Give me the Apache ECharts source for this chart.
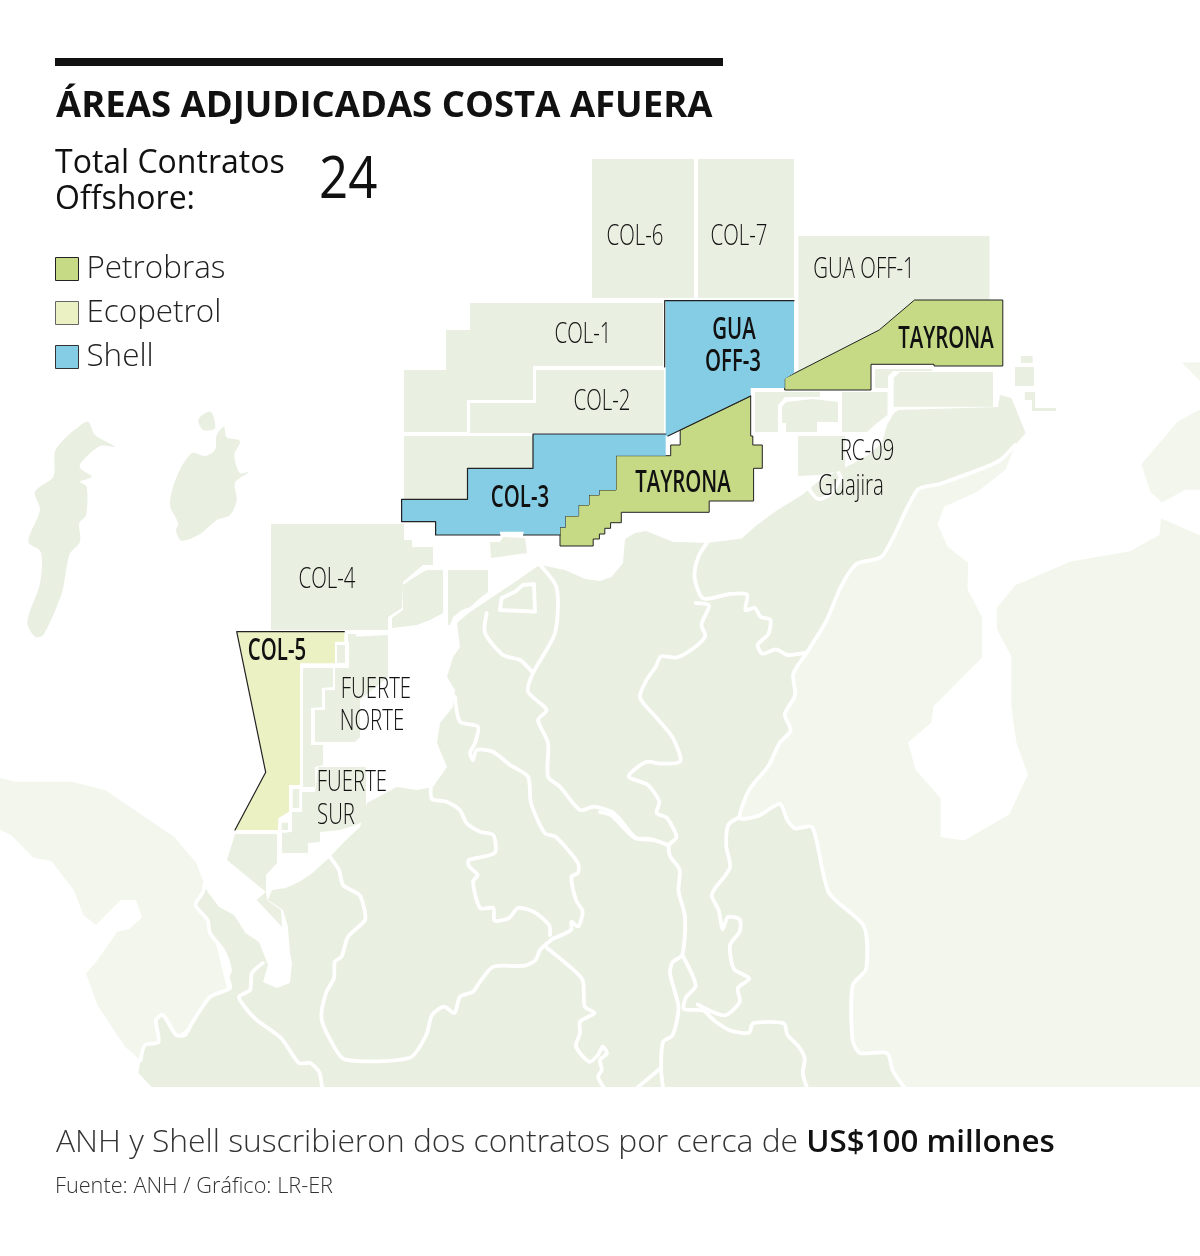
<!DOCTYPE html>
<html>
<head>
<meta charset="utf-8">
<style>html,body{margin:0;padding:0;background:#fff}#container{width:1200px;height:1256px}</style>
<script src="https://cdn.jsdelivr.net/npm/echarts@6/dist/echarts.min.js"></script>
</head>
<body>
<div id="container"></div>
<script>
// map geometry, in the picture's own x / y units
var paleLand = [
  [[1015,445],[1005.7,469.5],[977,492],[944.4,506.4],[937.5,524.3],[947.5,546.5],[968.2,563],[967.4,589],[982,617.3],[982,657.4],[933.7,706],[931.4,722.6],[908,742.4],[915.7,769.8],[940.6,798.2],[940.6,836.9],[964.3,840.6],[1009.5,814.2],[1027.9,774.5],[1016.4,742.4],[1011.4,707],[1011.4,656.5],[996.9,629.1],[996.9,607.9],[1015.2,585.2],[1070.7,561.6],[1130,551.2],[1159.5,534.7],[1161,518.2],[1200,535.6],[1200,1087],[700,1087],[700,700],[900,470]],
  [[1141.5,463.9],[1177.9,421.4],[1200,409.6],[1200,489.8],[1185.5,489.8],[1161.8,502.6],[1150,491.3]],
  [[1181.7,362.4],[1200,381],[1200,362.4]],
  [[0,778],[15.6,781.7],[71.4,781.7],[105,790],[174,836.7],[196.4,863],[204.5,885],[203,892],[230,1000],[140.6,1060],[125,1046.7],[97.3,1005],[86,973.3],[96,962.3],[117.4,931.7],[129.5,929],[142,917.3],[136,900],[120.5,900],[96,925],[83.5,915],[73.7,890],[51.3,861],[33.5,857.7],[11,835],[0,830]]
];
var mainLand = [[1025.6,433],[1011.4,398],[1000,395],[998,407],[898.5,410],[894,413],[887,425],[882,443],[868,455],[854,463],[835,472],[820,480],[802.8,494.6],[776,511],[757,525],[741.6,538.5],[707,543],[672.7,541.8],[646,531],[635,533],[625,539],[623,563],[611.5,577],[600,581],[585,579],[565,570],[540,565],[535,568],[515,582],[488,600],[470,612],[457,623],[460,647],[453,657],[447,677],[455,690],[453,707],[440,723],[437,743],[447,767],[433,787],[417,790],[397,787],[367,803],[360,827],[343,843],[330,857],[312.5,873],[299,882],[286,888],[272,890],[268,900],[283,910],[288,927],[290,953],[292,963],[290,983],[277,988],[263,982],[268,965],[259,942],[245.5,933],[234,915],[219,907],[207.6,892],[204.5,885],[203,892],[195.5,905],[207.6,920],[210,933],[223,950],[230,970],[227.7,977],[230,988],[210,997],[192,1023],[185,1035],[176,1035],[163,1015],[156,1020],[158.5,1042],[145,1045],[140.6,1060],[138.4,1073],[145,1080],[151.8,1087],[904,1087],[892.8,1070.6],[887,1053],[860,1053],[852.6,1040],[852.6,985.6],[866,969],[864,926.6],[828.9,892.6],[812.4,827.4],[795.2,828.4],[787.5,820.3],[779.9,803.8],[758.8,815.6],[739.7,818],[749.3,789.7],[768.4,766],[779.9,742.4],[790.6,730.6],[784.8,714],[795.2,695.2],[793.3,674],[806.7,652.7],[825.8,622],[841,586.6],[856.4,564],[882.4,556],[917.6,489.8],[940.6,483.7],[998,461.5],[1015,445]];
var islands = [
  [[88,421.7],[95,435],[115,446.7],[100,446],[81.7,461.7],[80,468],[91.7,476.7],[80,481.7],[86.7,486.7],[86,515],[79.3,523.3],[80,541.7],[70,553.3],[66.7,566.7],[61.7,593.3],[43.3,635],[35,636.7],[27.3,621.7],[40,583.3],[40.7,551.7],[28.3,541.7],[40,510],[35,491.7],[53.3,476.7],[55,451.7],[63.3,440],[76.7,428.3]],
  [[216.7,435],[224,426.7],[226.7,437.3],[240,441],[234.3,455],[240,473.3],[249.3,471.7],[235,482.7],[236.7,500],[230,515],[216.7,520],[200,534],[181.7,540.7],[176,530.7],[178.3,523.3],[170,505],[176.7,476.7],[191.7,453.3],[205,456],[215,450]],
  [[198.3,419.3],[210.7,411.7],[215,428.3],[203.3,430]]
];
var rivers = [
  [[707,543],[698.7,556],[694.5,577],[703.3,598.4],[730,594],[747,594.6],[745.4,610],[755,608],[760.7,617],[770.3,619.7],[768.4,634],[757.7,644.7],[762.6,653.7],[776,649.4],[787.5,655],[806.7,652.7]],
  [[695.7,603],[709,605.5],[701.4,624.4],[705.2,636.2],[693.8,648],[676.5,657.5],[661,656.5],[655.5,667],[646,681],[640,697.6],[657.4,718.8],[672.7,737.7],[680.4,761.3],[661,763.7],[646,762],[628.7,776.4],[647.8,785],[659.3,801.5],[656.6,813],[667,818],[676.5,837],[668.9,845.4],[670,855.7],[679.6,870],[678.5,891],[685,917],[682.3,955],[672.7,962],[670,973.8],[678.5,1007],[672.7,1035],[663,1042],[661,1068],[663,1087]],
  [[682.3,955],[695.7,985.6],[686,997.4],[684,1009],[703,1010.6],[714.8,1021],[730,1030.4],[749,1032.8],[753,1023.3],[783.7,1023.3],[787.5,1035],[799,1047],[804.7,1058.8],[802.8,1073],[806.7,1087]],
  [[737.8,818],[728.2,825],[726.3,846.3],[730,867.5],[714.8,888.8],[711.7,896],[718.6,910],[722.5,929],[728,917],[739.7,919.5],[739.7,931.3],[730,945.5],[734,969],[749.3,978.5],[737.8,988],[739.7,1002],[724.4,1015.3],[697.6,1004.5]],
  [[661,1068],[638,1087]],
  [[330,857],[339,870],[343,885],[359.4,895],[363.8,906.7],[365,920],[348,936.7],[341.5,956.7],[334.8,961.7],[334,978],[326,993],[321.4,1018],[330.4,1040],[344.6,1059.3],[409.8,1057.7],[426.3,1035],[432,1015],[444,1006.7],[454.5,1013],[460,996.7],[473,991.7],[480,981.7],[493.3,966.7],[524.5,965.7],[535.7,960],[540,950],[553.6,938.3]],
  [[430.8,788],[432,799],[446.4,801.7],[459.8,810],[466.5,823],[480,831.7],[493.3,835],[494.6,853],[468.8,860],[468.8,866],[477.7,875],[473,881.7],[480,908],[493.3,908],[494.6,920.7],[509,918],[518,908],[533.5,911.7],[549,925],[550,935]],
  [[455,696.7],[460,721.7],[478,726.7],[475,743],[470,753],[473,760],[476.7,750],[493,751.7],[510,765],[528,776.7],[531,803],[544.6,833],[555.8,837],[578,863],[578,873],[571.4,876.7],[576,900],[582.6,911.7],[578,926.7],[571.4,921.7],[571,930],[553.6,938.3]],
  [[547,948],[569,966],[582.6,980],[584.8,1006.7],[594.6,1013],[580,1021.7],[580,1033],[576,1046.7],[589.3,1061.7],[598,1055],[602.7,1046.7],[607,1053],[600,1060],[601.8,1070],[598,1076.7],[603.6,1087]],
  [[540,565],[556.7,588],[555,633],[533,673],[528,691.7],[546.7,710],[538,720],[548,743],[548,776.7],[560,786.7],[580,810],[593.8,806.7],[611.6,811.7],[620.5,820],[636,838],[654,840],[669,845.4]],
  [[600,812],[611.5,815.6],[634.4,837.8],[649.8,839],[668.9,845.4]],
  [[486.7,613],[485,633],[503,655],[520,660],[533,673]],
  [[263,963],[252,973],[250,990],[239,996.7],[245.5,1008],[256.7,1020],[281,1038],[299,1063],[310,1063],[319,1071.7],[322,1087]],
  [[841,478],[824,445],[812.4,442.6],[801,452],[804.7,466.2],[822,474],[808.6,486.5],[818,499],[829.6,494.6],[841,478]],
  [[1015,445],[998,461.5],[940.6,483.7],[917.6,489.8],[882.4,556],[856.4,564],[841,586.6],[825.8,622],[806.7,652.7],[793.3,674],[795.2,695.2],[784.8,714],[790.6,730.6],[779.9,742.4],[768.4,766],[749.3,789.7],[739.7,818],[758.8,815.6],[779.9,803.8],[787.5,820.3],[795.2,828.4],[812.4,827.4],[828.9,892.6],[864,926.6],[866,969],[852.6,985.6],[852.6,1040],[860,1053],[887,1053],[892.8,1070.6],[904,1087]],
  [[204.5,885],[203,892],[195.5,905],[207.6,920],[210,933],[223,950],[230,970],[227.7,977],[230,988],[210,997],[192,1023],[185,1035],[176,1035],[163,1015],[156,1020],[158.5,1042],[145,1045],[140.6,1060]]
];
var openBlocks = [
  [[592,159],[694,159],[694,298],[592,298]],
  [[698,159],[794,159],[794,298],[698,298]],
  [[798.4,236],[989.5,236],[989.5,300],[880,330],[798.4,382]],
  [[470,303],[663,303],[663,366],[533,366],[533,400],[467,400],[467,432],[404,432],[404,370],[446,370],[446,330],[470,330]],
  [[536,370],[664,370],[664,433],[470,433],[470,403],[536,403]],
  [[404,436],[533,436],[533,468],[467.5,468],[467.5,499],[404,499]],
  [[271,524],[404,524],[404,540],[412,540],[412,547],[433,547],[433,565],[423,565],[411,575],[403,582],[402,608],[388,617],[388,630],[271,630]],
  [[427,570],[443,570],[443,613],[430,620],[417,625],[392,628],[392,618],[403,610],[403,585],[413,578],[423,572]],
  [[448,570],[488,570],[488,592],[480,598],[470,607],[462,610],[453,617],[450,625],[448,625]],
  [[490,542],[500,542],[503,537],[525,538],[527,553],[491,558]],
  [[303,668],[333,668],[333,687],[322,688],[322,707],[311,708],[311,745],[323,745],[323,765],[315,767],[315,787],[303,787]],
  [[349,637],[388,635],[388,677],[360,700],[360,737],[355,742],[315,742],[315,710],[325,710],[325,690],[335,690],[335,668],[349,668]],
  [[318,767],[366,767],[366,820],[356,825],[340,830],[320,832],[320,842],[308,843],[308,853],[282,853],[282,833],[292,832],[292,812],[302,812],[302,792],[315,792]],
  [[292.7,789],[299.3,789],[299.3,808],[292.7,808]],
  [[281.7,822.7],[288,822.7],[288,830],[281.7,830]],
  [[348,634],[356,634],[356,641.7],[348,641.7]],
  [[337,645],[345,645],[345,663],[337,663]],
  [[235,834],[277,834],[277,863],[266,875],[266,892],[227,860]],
  [[265.6,892],[268,901],[281,910],[282,927],[256.7,900]],
  [[755,392],[820,392],[820,397],[785,397],[778,405],[778,432],[755,432]],
  [[786,402],[813,399],[838,402],[838,422],[817,422],[817,432],[786,432],[786,423],[782,423],[782,407]],
  [[842,392],[887.5,392],[887.5,415],[877,423],[867,432],[842,432]],
  [[900,372],[993,372],[993,406.7],[893.7,406.7],[893.7,378]],
  [[875,369],[932,369],[932,371],[893,371],[888,376],[888,388],[875,388]],
  [[1021,356],[1032.6,356],[1032.6,363],[1021,363]],
  [[1015,367],[1034,367],[1034,386],[1015,386]],
  [[1024.8,392],[1035,392],[1035,408],[1056,408],[1056,411],[1032,411],[1032,400],[1024.8,400]],
  [[798,436],[845,436],[845,470],[820,475],[798,476]]
];
var innerOutline = [[500,610],[501.7,598],[515,591.7],[523,585],[534,584],[535,611.7],[500,610]];

var petrobrasAreas = [
  [[750.7,396],[750.7,436],[752.8,436],[752.8,445],[762.3,445],[762.3,468.3],[753.6,468.3],[753.6,501],[709.2,501],[709.2,512.3],[621.3,512.3],[621.3,522.7],[610.6,522.7],[610.6,528.3],[604.8,528.3],[604.8,534],[599.4,534],[599.4,539],[593.2,539],[593.2,546],[560,546],[560,527.3],[565.4,527.3],[565.4,516],[578.6,516],[578.6,505],[589,505],[589,495],[599.4,495],[599.4,490],[616,490],[616,455.7],[670.7,455.7],[670.7,445],[680.2,445],[680.2,430]],
  [[784.7,378.3],[879.2,330],[914.5,300],[1002.8,300],[1002.8,366],[934,366],[934,364.3],[871,364.3],[871,390],[784.7,390]]
];
var ecopetrolAreas = [
  [[236.7,631.7],[344.3,631.7],[344.3,641.7],[335,641.7],[335,663.3],[300,663.3],[300,785],[289,785],[289,811.7],[278.3,818.3],[278,830],[235,830],[265.7,772.3]]
];
var shellAreas = [
  [[533,434],[665.7,434],[665.7,455.7],[616,455.7],[616,490],[599.4,490],[599.4,495],[589,495],[589,505],[578.6,505],[578.6,516],[565.4,516],[565.4,527.3],[560,527.3],[560,535],[523.5,535],[523.5,531.7],[500,531.7],[500,535],[435.6,535],[435.6,521.7],[401.6,521.7],[401.6,499.3],[467.5,499.3],[467.5,468.3],[533,468.3]],
  [[665.7,300.7],[794,300.7],[794,373],[784.7,379],[784.7,388],[750.7,388],[750.7,396],[680,430],[668,436],[665.7,436]]
];
var darkEdges = [
  [[344.3,631.7],[236.7,631.7],[265.7,772.3],[235,830]],
  [[664.7,367],[664.7,300.7],[794,300.7]],
  [[750.7,396],[668,436]],
  [[665.7,434],[533,434],[533,468.3],[467.5,468.3],[467.5,499.3],[401.6,499.3],[401.6,521.7],[435.6,521.7],[435.6,535],[500,535]],
  [[523.5,535],[560,535]]
];
var areaLabels = [
  ['COL-6',635,236,0],['COL-7',739,236,0],['GUA OFF-1',864,269,0],['COL-1',583,334,0],['COL-2',602,401,0],
  ['RC-09',867,451,0],['Guajira',851,486,0],['COL-4',327,579,0],['FUERTE',376,689,0],['NORTE',372,721,0],
  ['FUERTE',352,782,0],['SUR',336,815,0],['GUA',734,330,1],['OFF-3',733,362,1],['TAYRONA',946,339,1],
  ['TAYRONA',683,483,1],['COL-3',520,498,1],['COL-5',277,651,1]
];
var legendNames = ['Petrobras', 'Ecopetrol', 'Shell'];
var legendColors = ['#c6da85', '#ecf1c4', '#85cde4'];
var legendEdges = ['#222222', '#666666', '#333333'];
var totalContracts = '24';

function polySeries(name, polys, fill, stroke, lw, smooth) {
  return {
    name: name, type: 'custom', coordinateSystem: 'cartesian2d', silent: true, clip: false,
    itemStyle: {color: fill},
    data: polys.map(function (p, i) { return [i, 0]; }),
    renderItem: function (params, api) {
      return {
        type: 'polygon',
        shape: {points: polys[params.dataIndex].map(function (p) { return api.coord(p); }), smooth: smooth || 0},
        style: {fill: fill, stroke: stroke || null, lineWidth: lw || 0, lineJoin: 'miter'}
      };
    }
  };
}
function lineSeries(name, lines, color, lw, smooth) {
  return {
    name: name, type: 'custom', coordinateSystem: 'cartesian2d', silent: true, clip: false,
    data: lines.map(function (p, i) { return [i, 0]; }),
    renderItem: function (params, api) {
      return {
        type: 'polyline',
        shape: {points: lines[params.dataIndex].map(function (p) { return api.coord(p); }), smooth: smooth || 0},
        style: {fill: null, stroke: color, lineWidth: lw, lineJoin: 'round', lineCap: 'round'}
      };
    }
  };
}

var myChart = echarts.init(document.getElementById('container'));
var baseFont = '"Open Sans", sans-serif';

var option = {
  animation: false,
  backgroundColor: '#ffffff',
  title: {
    text: 'ÁREAS ADJUDICADAS COSTA AFUERA',
    left: 51, top: 83,
    textStyle: {fontFamily: baseFont, fontSize: 36.5, fontWeight: 700, color: '#111'}
  },
  legend: {
    data: legendNames.map(function (n, i) {
      return {name: n, icon: 'rect', itemStyle: {color: legendColors[i], borderColor: legendEdges[i], borderWidth: 1}};
    }),
    orient: 'vertical', left: 50, top: 244, itemGap: 4,
    itemWidth: 23, itemHeight: 23, selectedMode: false,
    textStyle: {fontFamily: baseFont, fontWeight: 300, fontSize: 31.4, color: '#222', padding: [0, 0, 0, 3], height: 40, lineHeight: 40}
  },
  grid: {left: 0, right: 0, top: 0, bottom: 0},
  xAxis: {type: 'value', min: 0, max: 1200, show: false},
  yAxis: {type: 'value', min: 0, max: 1256, inverse: true, show: false},
  graphic: [
    {type: 'rect', shape: {x: 55, y: 58, width: 668, height: 8}, style: {fill: '#111'}},
    {type: 'text', x: 55, y: 146, style: {text: 'Total Contratos\nOffshore:', font: '400 32px ' + baseFont, lineHeight: 36, fill: '#111'}},
    {type: 'text', x: 319, y: 152, scaleX: 0.88, style: {text: totalContracts, font: '400 58px ' + baseFont, fill: '#111'}},
    {type: 'text', x: 56, y: 1127, style: {
      text: '{a|ANH y Shell suscribieron dos contratos por cerca de }{b|US$100 millones}',
      rich: {a: {font: '300 31.8px ' + baseFont, fill: '#333'}, b: {font: '600 31.3px ' + baseFont, fill: '#111'}}
    }},
    {type: 'text', x: 55, y: 1176, style: {text: 'Fuente: ANH / Gráfico: LR-ER', font: '300 21.7px ' + baseFont, fill: '#333'}}
  ],
  series: [
    polySeries('pale', paleLand, '#f3f6ec'),
    polySeries('land', [mainLand], '#e9efe1'),
    polySeries('islands', islands, '#e9efe1', null, 0, 0.3),
    lineSeries('rivers', rivers, '#ffffff', 3.8, 0.25),
    polySeries('blocks', openBlocks, '#e9efe1'),
    lineSeries('outline', [innerOutline], '#ffffff', 3.8),
    polySeries('Petrobras', petrobrasAreas, legendColors[0], '#222', 1),
    polySeries('Ecopetrol', ecopetrolAreas, legendColors[1]),
    polySeries('Shell', shellAreas, legendColors[2]),
    lineSeries('edges', darkEdges, '#222', 1.2),
    {
      name: 'labels', type: 'custom', coordinateSystem: 'cartesian2d', silent: true, clip: false,
      data: areaLabels.map(function (d, i) { return [i, 0]; }),
      renderItem: function (params, api) {
        var d = areaLabels[params.dataIndex];
        var pos = api.coord([d[1], d[2]]);
        return {
          type: 'text', x: pos[0], y: pos[1], scaleX: 0.68, scaleY: 1,
          style: {
            text: d[0], textAlign: 'center', textVerticalAlign: 'middle',
            font: (d[3] ? '600' : '300') + ' 30px ' + baseFont, fill: '#111'
          }
        };
      }
    }
  ]
};
myChart.setOption(option);
</script>
</body>
</html>
